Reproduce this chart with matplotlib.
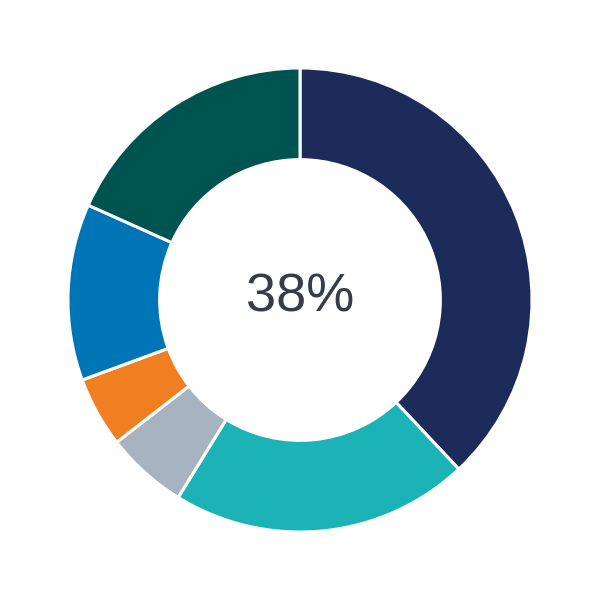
import matplotlib.pyplot as plt

shares = [38, 20.8, 5.7, 4.9, 12.3, 18.3]
colors = ['#1c2b5a', '#1bb3b5', '#a8b3c1', '#f07f21', '#0075b5', '#005450']
center_label = '38%'


def draw_donut():
    fig = plt.figure(figsize=(6, 6), dpi=100)
    ax = fig.add_axes([0, 0, 1, 1])
    ax.pie(shares, colors=colors, startangle=90, counterclock=False,
           wedgeprops=dict(width=0.395, edgecolor='white', linewidth=2.2))
    ax.text(0, 0.01, center_label, ha='center', va='center', fontsize=39,
            color='#363d48', family='Liberation Sans')
    ax.set_xlim(-1.293, 1.293)
    ax.set_ylim(-1.293, 1.293)
    ax.set_aspect('equal')
    ax.axis('off')
    fig.savefig('out.png', dpi=100, facecolor='white')


if __name__ == "__main__":
    draw_donut()
